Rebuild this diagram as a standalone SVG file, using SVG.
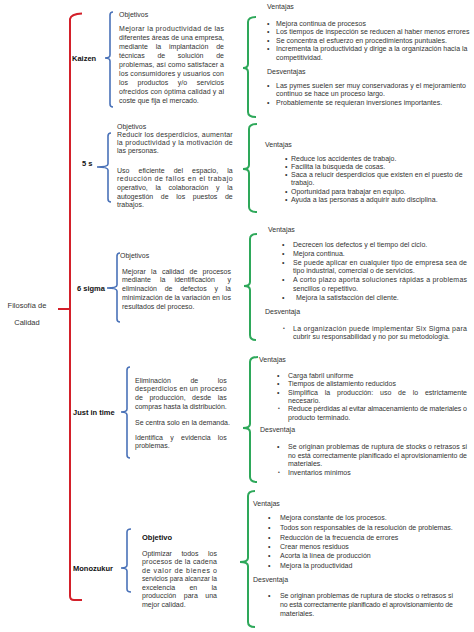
<svg xmlns="http://www.w3.org/2000/svg" width="474" height="632" viewBox="0 0 474 632">
<style>
.t{font-family:"Liberation Sans",Arial,sans-serif;font-size:7px;fill:#333}
.lb{font-family:"Liberation Sans",Arial,sans-serif;font-size:7.5px;font-weight:bold;fill:#111}
.root{font-family:"Liberation Sans",Arial,sans-serif;font-size:7.5px;fill:#333}
.e{text-anchor:end}
.sb{font-size:5px}
.red{stroke:#d3202a;stroke-width:2;fill:none}
.blue{stroke:#4a72b8;stroke-width:1.6;fill:none}
.green{stroke:#2ea85a;stroke-width:2;fill:none}
</style>
<rect width="474" height="632" fill="#fff"/>

<g id="connectors">
<path class="red" d="M82 13.5 Q71 14 70 19 V596 Q70 600 74 600 H82 M58 309 H70"/>
<path class="blue" d="M113 12 Q110 12 110 15 V55 Q110 58 105 58 Q110 58 110 61 V104 Q110 107 113 107"/>
<path class="blue" d="M111 133 Q108 133 108 136 V164 Q108 167 97 167 Q108 167 108 170 V199 Q108 202 111 202"/>
<path class="blue" d="M120 253 Q117 253 117 256 V285 Q117 288 107 288 Q117 288 117 291 V319 Q117 322 120 322"/>
<path class="blue" d="M130 367 Q127 367 127 370 V409 Q127 412 121 412 Q127 412 127 415 V455 Q127 458 130 458"/>
<path class="blue" d="M131 529 Q127 529 127 532 V565 Q127 568 121 568 Q127 568 127 571 V589 Q127 592 131 592"/>
<path class="green" d="M256 17 Q248 17 248 22 V64 Q248 68 243 68 Q248 68 248 72 V112 Q248 117 256 117"/>
<path class="green" d="M257 124 Q249 124 249 129 V165 Q249 169 243 169 Q249 169 249 173 V207 Q249 212 257 212"/>
<path class="green" d="M257 234 Q250 234 250 239 V282 Q250 286 244 286 Q250 286 250 290 V335 Q250 340 256 340"/>
<path class="green" d="M258 357 Q250 357 250 362 V424 Q250 428 243 428 Q250 428 250 432 V477 Q250 482 257 482"/>
<path class="green" d="M255 491 Q248 491 248 496 V558 Q248 562 240 562 Q248 562 248 566 V622 Q248 627 255 627"/>
</g>

<g id="root">
<text class="root" x="27" y="307.5" text-anchor="middle">Filosofía de</text>
<text class="root" x="27" y="324.5" text-anchor="middle">Calidad</text>
</g>

<g id="kaizen">
<text class="lb" x="72" y="60.7">Kaizen</text>
<text class="t" x="119" y="16.5">Objetivos</text>
<text class="t" x="119" y="30.5" textLength="105" lengthAdjust="spacing">Mejorar la productividad de las</text>
<text class="t" x="119" y="39.6" textLength="105" lengthAdjust="spacing">diferentes áreas de una empresa,</text>
<text class="t" y="48.7"><tspan x="119">mediante</tspan><tspan x="155.7">la</tspan><tspan x="169">implantación</tspan><tspan x="224" text-anchor="end">de</tspan></text>
<text class="t" y="57.8"><tspan x="119">técnicas</tspan><tspan x="157.4">de</tspan><tspan x="177.8">solución</tspan><tspan x="224" text-anchor="end">de</tspan></text>
<text class="t" x="119" y="66.9" textLength="105" lengthAdjust="spacing">problemas, así como satisfacer a</text>
<text class="t" x="119" y="76" textLength="105" lengthAdjust="spacing">los consumidores y usuarios con</text>
<text class="t" y="85.1"><tspan x="119">los</tspan><tspan x="137.5">productos</tspan><tspan x="177.8">y/o</tspan><tspan x="224" text-anchor="end">servicios</tspan></text>
<text class="t" x="119" y="94.2" textLength="105" lengthAdjust="spacing">ofrecidos con óptima calidad y al</text>
<text class="t" x="119" y="103.3">coste que fija el mercado.</text>
<text class="t" x="267" y="9">Ventajas</text>
<text class="t" x="267" y="25.5">•</text><text class="t" x="276" y="25.5">Mejora continua de procesos</text>
<text class="t" x="267" y="34">•</text><text class="t" x="276" y="34">Los tiempos de inspección se reducen al haber menos errores</text>
<text class="t" x="267" y="42.5">•</text><text class="t" x="276" y="42.5">Se concentra el esfuerzo en procedimientos puntuales.</text>
<text class="t" x="267" y="51">•</text><text class="t" x="276" y="51">Incrementa la productividad y dirige a la organización hacia la</text>
<text class="t" x="276" y="59.5">competitividad.</text>
<text class="t" x="267" y="73.5">Desventajas</text>
<text class="t" x="267" y="87.5">•</text><text class="t" x="276" y="87.5" textLength="190" lengthAdjust="spacing">Las pymes suelen ser muy conservadoras y el mejoramiento</text>
<text class="t" x="276" y="96">continuo se hace un proceso largo.</text>
<text class="t" x="267" y="104.5">•</text><text class="t" x="276" y="104.5">Probablemente se requieran inversiones importantes.</text>
</g>

<g id="cinco-s">
<text class="lb" x="82" y="165.7">5 s</text>
<text class="t" x="117" y="128.5">Objetivos</text>
<text class="t" x="117" y="137" textLength="115.7" lengthAdjust="spacing">Reducir los desperdicios, aumentar</text>
<text class="t" x="117" y="145" textLength="115.7" lengthAdjust="spacing">la productividad y la motivación de</text>
<text class="t" x="117" y="153">las personas.</text>
<text class="t" y="172.5"><tspan x="117">Uso</tspan><tspan x="138.5">eficiente</tspan><tspan x="173.7">del</tspan><tspan x="192.1">espacio,</tspan><tspan x="232.7" text-anchor="end">la</tspan></text>
<text class="t" x="117" y="181.2" textLength="115.7" lengthAdjust="spacing">reducción de fallos en el trabajo</text>
<text class="t" y="189.9"><tspan x="117">operativo,</tspan><tspan x="155.5">la</tspan><tspan x="168.6">colaboración</tspan><tspan x="216">y</tspan><tspan x="232.7" text-anchor="end">la</tspan></text>
<text class="t" y="198.6"><tspan x="117">autogestión</tspan><tspan x="160.8">de</tspan><tspan x="176.2">los</tspan><tspan x="192.8">puestos</tspan><tspan x="232.7" text-anchor="end">de</tspan></text>
<text class="t" x="117" y="207.3">trabajos.</text>
<text class="t" x="265" y="146.5">Ventajas</text>
<text class="t" x="285" y="160.5">•</text><text class="t" x="291" y="160.5">Reduce los accidentes de trabajo.</text>
<text class="t" x="285" y="168.8">•</text><text class="t" x="291" y="168.8">Facilita la búsqueda de cosas.</text>
<text class="t" x="285" y="177.1">•</text><text class="t" x="291" y="177.1">Saca a relucir desperdicios que existen en el puesto de</text>
<text class="t" x="291" y="185.4">trabajo.</text>
<text class="t" x="285" y="193.7">•</text><text class="t" x="291" y="193.7">Oportunidad para trabajar en equipo.</text>
<text class="t" x="285" y="202">•</text><text class="t" x="291" y="202">Ayuda a las personas a adquirir auto disciplina.</text>
</g>

<g id="seis-sigma">
<text class="lb" x="77" y="290.7">6 sigma</text>
<text class="t" x="120" y="257.5">Objetivos</text>
<text class="t" y="273.5"><tspan x="122">Mejorar</tspan><tspan x="151.1">la</tspan><tspan x="161.9">calidad</tspan><tspan x="189.5">de</tspan><tspan x="231" text-anchor="end">procesos</tspan></text>
<text class="t" y="282.3"><tspan x="122">mediante</tspan><tspan x="159.9">la</tspan><tspan x="174.4">identificación</tspan><tspan x="231" text-anchor="end">y</tspan></text>
<text class="t" y="291"><tspan x="122">eliminación</tspan><tspan x="164.7">de</tspan><tspan x="180.2">defectos</tspan><tspan x="214.4">y</tspan><tspan x="231" text-anchor="end">la</tspan></text>
<text class="t" x="122" y="299.8" textLength="109" lengthAdjust="spacing">minimización de la variación en los</text>
<text class="t" x="122" y="308.5">resultados del proceso.</text>
<text class="t" x="268" y="231.5">Ventajas</text>
<text class="t" x="282" y="247">•</text><text class="t" x="293" y="247">Decrecen los defectos y el tiempo del ciclo.</text>
<text class="t" x="282" y="255.8">•</text><text class="t" x="293" y="255.8">Mejora continua.</text>
<text class="t" x="282" y="264.6">•</text><text class="t" x="293" y="264.6" textLength="174" lengthAdjust="spacing">Se puede aplicar en cualquier tipo de empresa sea de</text>
<text class="t" x="293" y="273.4">tipo industrial, comercial o de servicios.</text>
<text class="t" x="282" y="282.2">•</text><text class="t" x="293" y="282.2" textLength="174" lengthAdjust="spacing">A corto plazo aporta soluciones rápidas a problemas</text>
<text class="t" x="293" y="291">sencillos o repetitivo.</text>
<text class="t" x="282" y="299.8">•</text><text class="t" x="296" y="299.8">Mejora la satisfacción del cliente.</text>
<text class="t" x="265" y="313.5">Desventaja</text>
<text class="t sb" x="283" y="329.5">•</text><text class="t" x="293" y="330.5" textLength="174" lengthAdjust="spacing">La organización puede implementar Six Sigma para</text>
<text class="t" x="293" y="338.8">cubrir su responsabilidad y no por su metodología.</text>
</g>

<g id="just-in-time">
<text class="lb" x="73" y="414.7">Just in time</text>
<text class="t" y="382.5"><tspan x="135">Eliminación</tspan><tspan x="190.4">de</tspan><tspan x="226.7" text-anchor="end">los</tspan></text>
<text class="t" x="135" y="391.3" textLength="91.7" lengthAdjust="spacing">desperdicios en un proceso</text>
<text class="t" y="400.1"><tspan x="135">de</tspan><tspan x="149.4">producción,</tspan><tspan x="192.1">desde</tspan><tspan x="226.7" text-anchor="end">las</tspan></text>
<text class="t" x="135" y="408.9" textLength="91.7" lengthAdjust="spacing">compras hasta la distribución.</text>
<text class="t" x="135" y="424.5">Se centra solo en la demanda.</text>
<text class="t" y="439.5"><tspan x="135">Identifica</tspan><tspan x="170.2">y</tspan><tspan x="181">evidencia</tspan><tspan x="226.7" text-anchor="end">los</tspan></text>
<text class="t" x="135" y="448.3">problemas.</text>
<text class="t" x="259" y="361.5">Ventajas</text>
<text class="t" x="277" y="377.5">•</text><text class="t" x="288" y="377.5">Carga fabril uniforme</text>
<text class="t" x="277" y="386">•</text><text class="t" x="288" y="386">Tiempos de alistamiento reducidos</text>
<text class="t" x="277" y="394.5">•</text><text class="t" y="394.5"><tspan x="288">Simplifica</tspan><tspan x="324.8">la</tspan><tspan x="337">producción:</tspan><tspan x="380">uso</tspan><tspan x="398.1">de</tspan><tspan x="412.7">lo</tspan><tspan x="467" text-anchor="end">estrictamente</tspan></text>
<text class="t" x="288" y="402.5">necesario.</text>
<text class="t sb" x="278" y="410">•</text><text class="t" x="288" y="411" textLength="179" lengthAdjust="spacing">Reduce pérdidas al evitar almacenamiento de materiales o</text>
<text class="t" x="288" y="419.5">producto terminado.</text>
<text class="t" x="260" y="432">Desventaja</text>
<text class="t" x="277" y="449">•</text><text class="t" x="288" y="449" textLength="179" lengthAdjust="spacing">Se originan problemas de ruptura de stocks o retrasos si</text>
<text class="t" x="288" y="457.5" textLength="179" lengthAdjust="spacing">no está correctamente planificado el aprovisionamiento de</text>
<text class="t" x="288" y="466">materiales.</text>
<text class="t sb" x="278" y="473.5">•</text><text class="t" x="288" y="474.5">Inventarios mínimos</text>
</g>

<g id="monozukur">
<text class="lb" x="73" y="570.7">Monozukur</text>
<text class="lb" x="142" y="539.5">Objetivo</text>
<text class="t" y="555.5"><tspan x="142">Optimizar</tspan><tspan x="181.4">todos</tspan><tspan x="217" text-anchor="end">los</tspan></text>
<text class="t" x="142" y="564" textLength="75" lengthAdjust="spacing">procesos de la cadena</text>
<text class="t" x="142" y="572.5" textLength="75" lengthAdjust="spacing">de valor de bienes o</text>
<text class="t" x="142" y="581" textLength="75" lengthAdjust="spacingAndGlyphs">servicios para alcanzar la</text>
<text class="t" y="589.5"><tspan x="142">excelencia</tspan><tspan x="189.4">en</tspan><tspan x="217" text-anchor="end">la</tspan></text>
<text class="t" y="598"><tspan x="142">producción</tspan><tspan x="183.8">para</tspan><tspan x="217" text-anchor="end">una</tspan></text>
<text class="t" x="142" y="606.5">mejor calidad.</text>
<text class="t" x="253" y="505.5">Ventajas</text>
<text class="t" x="268" y="519.5">•</text><text class="t" x="280" y="519.5">Mejora constante de los procesos.</text>
<text class="t" x="268" y="530">•</text><text class="t" x="280" y="530">Todos son responsables de la resolución de problemas.</text>
<text class="t" x="268" y="539.5">•</text><text class="t" x="280" y="539.5">Reducción de la frecuencia de errores</text>
<text class="t" x="268" y="548.5">•</text><text class="t" x="280" y="548.5">Crear menos residuos</text>
<text class="t" x="268" y="558">•</text><text class="t" x="280" y="558">Acorta la línea de producción</text>
<text class="t" x="268" y="568">•</text><text class="t" x="280" y="568">Mejora la productividad</text>
<text class="t" x="253" y="582">Desventaja</text>
<text class="t" x="268" y="598">•</text><text class="t" x="280" y="598" textLength="173" lengthAdjust="spacing">Se originan problemas de ruptura de stocks o retrasos si</text>
<text class="t" x="280" y="606.5" textLength="173" lengthAdjust="spacing">no está correctamente planificado el aprovisionamiento de</text>
<text class="t" x="280" y="615.5">materiales.</text>
</g>
</svg>
